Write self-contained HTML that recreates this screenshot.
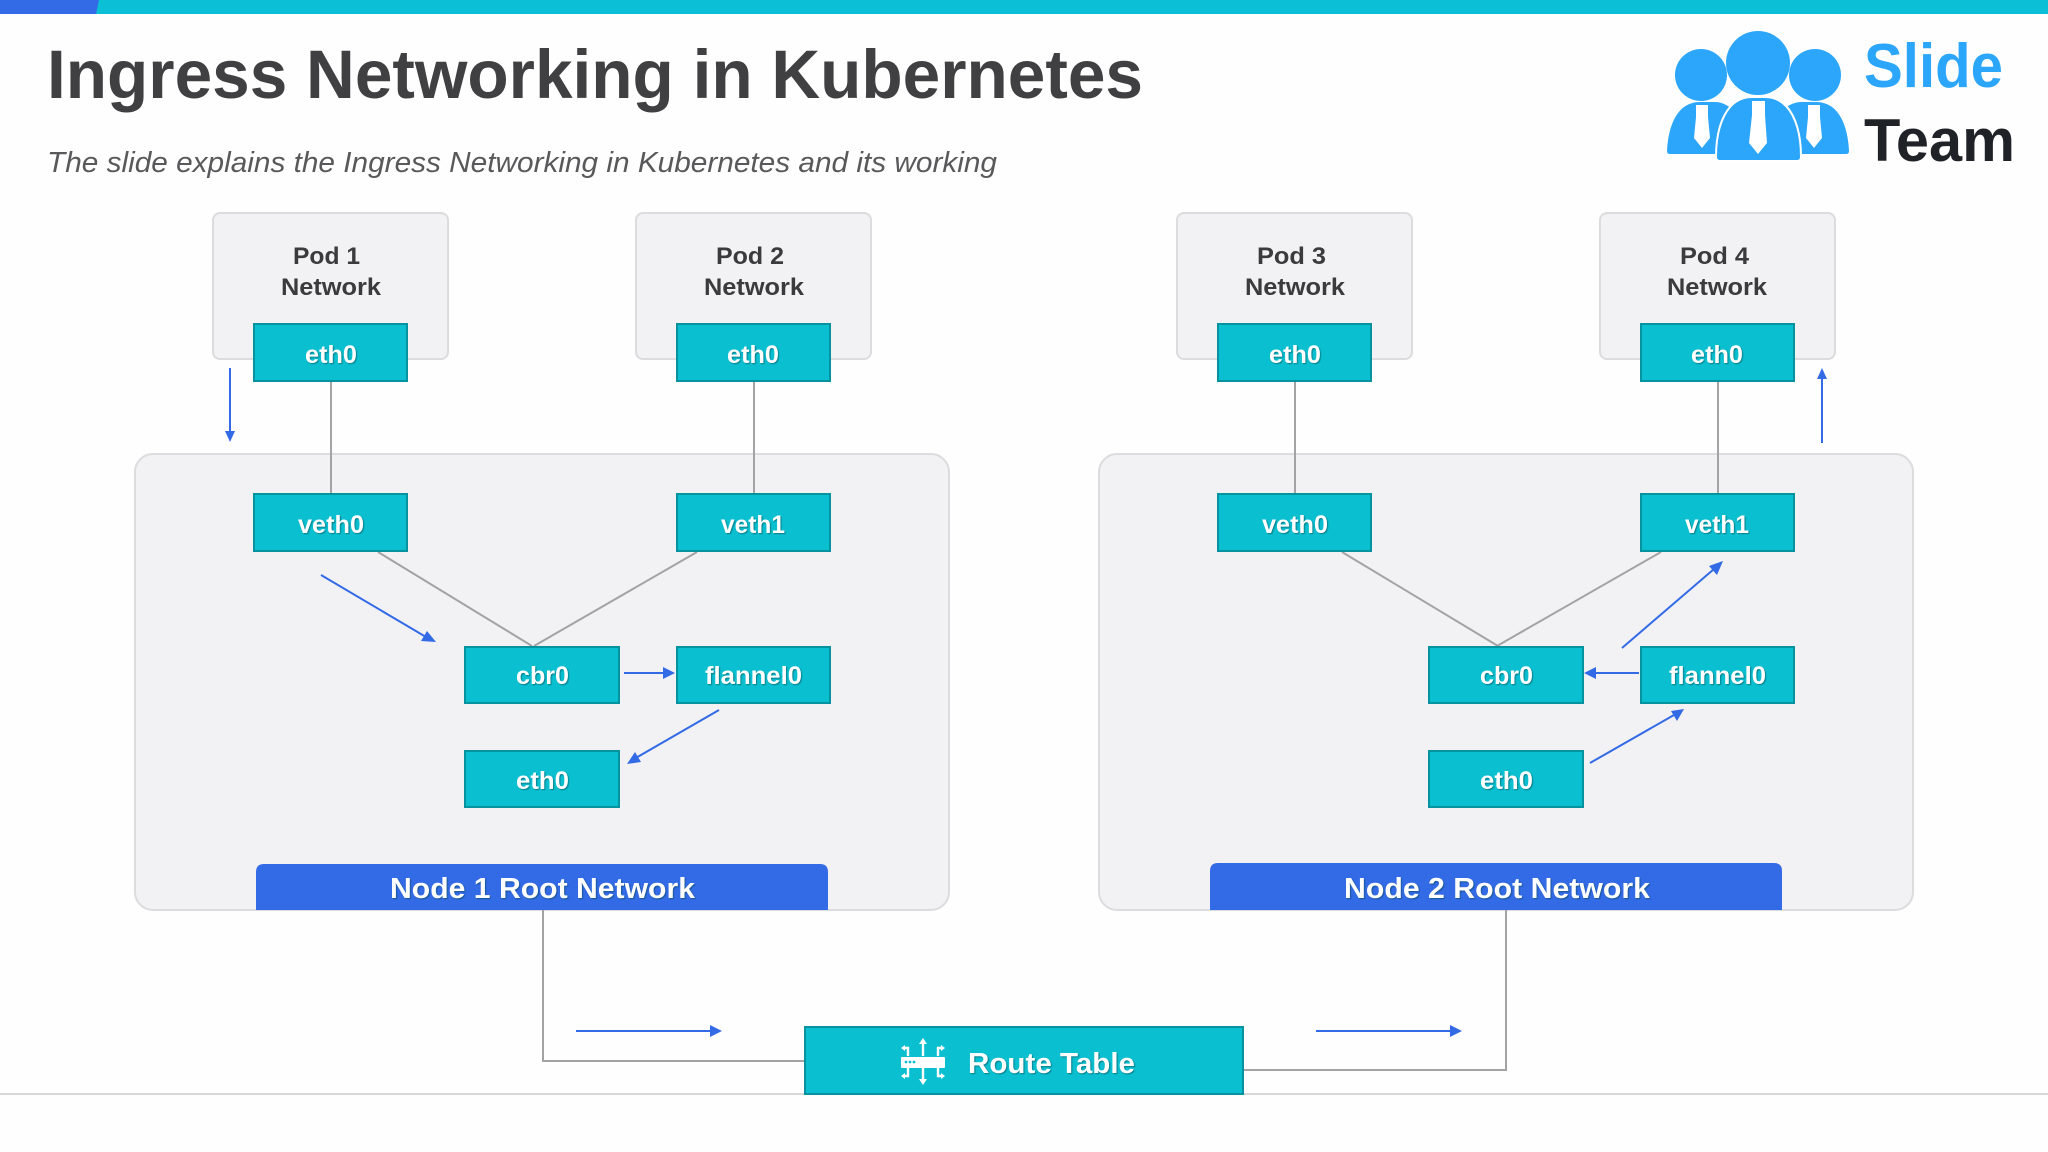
<!DOCTYPE html>
<html lang="en"><head><meta charset="utf-8"><title>Ingress Networking in Kubernetes</title>
<style>
html,body{margin:0;padding:0;background:#fefefe}
svg{display:block}
text{font-family:"Liberation Sans",sans-serif}
.t{fill:#fff;font-weight:700;font-size:25px}
.w{filter:drop-shadow(1px 1px .6px rgba(0,70,80,.55))}
.p{fill:#3b3a3c;font-weight:700;font-size:24px}
.n{fill:#fff;font-weight:700;font-size:29px}
.b{fill:#0abfcf;stroke:#07929f;stroke-width:2}
.c{fill:#f2f2f4;stroke:#dcdcde;stroke-width:2}
.g{stroke:#a3a3a5;stroke-width:2;fill:none}
.a{stroke:#336ae6;stroke-width:2;fill:none}
.h{fill:#336ae6}
</style></head><body>
<svg width="2048" height="1152" viewBox="0 0 2048 1152" xmlns="http://www.w3.org/2000/svg">
<rect width="2048" height="1152" fill="#fefefe"/>
<rect width="2048" height="14" fill="#0bbfd6"/>
<polygon points="0,0 99,0 96,14 0,14" fill="#336ae6"/>
<text x="47" y="98" font-size="69" font-weight="700" fill="#403f41" textLength="1096" lengthAdjust="spacingAndGlyphs">Ingress Networking in Kubernetes</text>
<text x="47" y="172" font-size="29" font-style="italic" fill="#59595b" textLength="950" lengthAdjust="spacingAndGlyphs">The slide explains the Ingress Networking in Kubernetes and its working</text>

<!-- logo -->
<g fill="#2ba6fb">
<circle cx="1701" cy="75" r="26"/><circle cx="1815" cy="75" r="26"/><circle cx="1758" cy="63" r="32"/>
<path d="M1667 151C1668 130 1675 102 1700 102H1715C1730 102 1750 120 1750 154H1670Q1667 154 1667 151Z"/>
<path d="M1849 151C1848 130 1841 102 1816 102H1801C1786 102 1766 120 1766 154H1846Q1849 154 1849 151Z"/>
<path d="M1716 157C1716 125 1727 97 1752 97H1765C1790 97 1801 125 1801 157Q1801 161 1797 161H1720Q1716 161 1716 157Z" stroke="#fff" stroke-width="2"/>
</g>
<g fill="#fff">
<path d="M1696 105H1708V117L1710 138L1702 148L1694 138L1696 117Z"/>
<path d="M1808 105H1820V117L1822 138L1814 148L1806 138L1808 117Z"/>
<path d="M1752 101H1765V115L1767 143L1758 154L1749 143L1752 115Z"/>
</g>
<text x="1864" y="87" font-size="62" font-weight="700" fill="#2ba6fb" textLength="139" lengthAdjust="spacingAndGlyphs">Slide</text>
<text x="1864" y="161" font-size="60" font-weight="700" fill="#1f2328" textLength="151" lengthAdjust="spacingAndGlyphs">Team</text>

<!-- containers -->
<rect class="c" x="213" y="213" width="235" height="146" rx="7"/>
<rect class="c" x="636" y="213" width="235" height="146" rx="7"/>
<rect class="c" x="1177" y="213" width="235" height="146" rx="7"/>
<rect class="c" x="1600" y="213" width="235" height="146" rx="7"/>
<rect class="c" x="135" y="454" width="814" height="456" rx="18"/>
<rect class="c" x="1099" y="454" width="814" height="456" rx="18"/>

<!-- gray connectors -->
<path class="g" d="M331 381V494M754 381V494M1295 381V494M1718 381V494"/>
<path class="g" d="M378 552L532 646M697 552L534 646M1342 552L1498 646M1661 552L1497 646"/>
<path class="g" d="M543 910V1061H804M1244 1070H1506V910"/>

<!-- pod labels -->
<g class="p">
<text x="293" y="264" textLength="67" lengthAdjust="spacingAndGlyphs">Pod 1</text>
<text x="281" y="295" textLength="100" lengthAdjust="spacingAndGlyphs">Network</text>
<text x="716" y="264" textLength="68" lengthAdjust="spacingAndGlyphs">Pod 2</text>
<text x="704" y="295" textLength="100" lengthAdjust="spacingAndGlyphs">Network</text>
<text x="1257" y="264" textLength="69" lengthAdjust="spacingAndGlyphs">Pod 3</text>
<text x="1245" y="295" textLength="100" lengthAdjust="spacingAndGlyphs">Network</text>
<text x="1680" y="264" textLength="69" lengthAdjust="spacingAndGlyphs">Pod 4</text>
<text x="1667" y="295" textLength="100" lengthAdjust="spacingAndGlyphs">Network</text>
</g>

<!-- teal boxes -->
<g>
<rect class="b" x="254" y="324" width="153" height="57"/><rect class="b" x="677" y="324" width="153" height="57"/>
<rect class="b" x="1218" y="324" width="153" height="57"/><rect class="b" x="1641" y="324" width="153" height="57"/>
<rect class="b" x="254" y="494" width="153" height="57"/><rect class="b" x="677" y="494" width="153" height="57"/>
<rect class="b" x="1218" y="494" width="153" height="57"/><rect class="b" x="1641" y="494" width="153" height="57"/>
<rect class="b" x="465" y="647" width="154" height="56"/><rect class="b" x="677" y="647" width="153" height="56"/>
<rect class="b" x="1429" y="647" width="154" height="56"/><rect class="b" x="1641" y="647" width="153" height="56"/>
<rect class="b" x="465" y="751" width="154" height="56"/><rect class="b" x="1429" y="751" width="154" height="56"/>
</g>
<g class="w">
<g class="t">
<text x="305" y="363" textLength="52" lengthAdjust="spacingAndGlyphs">eth0</text>
<text x="727" y="363" textLength="52" lengthAdjust="spacingAndGlyphs">eth0</text>
<text x="1269" y="363" textLength="52" lengthAdjust="spacingAndGlyphs">eth0</text>
<text x="1691" y="363" textLength="52" lengthAdjust="spacingAndGlyphs">eth0</text>
<text x="298" y="533" textLength="66" lengthAdjust="spacingAndGlyphs">veth0</text>
<text x="721" y="533" textLength="64" lengthAdjust="spacingAndGlyphs">veth1</text>
<text x="1262" y="533" textLength="66" lengthAdjust="spacingAndGlyphs">veth0</text>
<text x="1685" y="533" textLength="64" lengthAdjust="spacingAndGlyphs">veth1</text>
<text x="516" y="684" textLength="53" lengthAdjust="spacingAndGlyphs">cbr0</text>
<text x="705" y="684" textLength="97" lengthAdjust="spacingAndGlyphs">flannel0</text>
<text x="1480" y="684" textLength="53" lengthAdjust="spacingAndGlyphs">cbr0</text>
<text x="1669" y="684" textLength="97" lengthAdjust="spacingAndGlyphs">flannel0</text>
<text x="516" y="789" textLength="53" lengthAdjust="spacingAndGlyphs">eth0</text>
<text x="1480" y="789" textLength="53" lengthAdjust="spacingAndGlyphs">eth0</text>
</g>
</g>

<!-- node bars -->
<path class="h" d="M256 910V872Q256 864 264 864H820Q828 864 828 872V910Z"/>
<path class="h" d="M1210 910V871Q1210 863 1218 863H1774Q1782 863 1782 871V910Z"/>
<g class="w"><g class="n">
<text x="390" y="898" textLength="305" lengthAdjust="spacingAndGlyphs">Node 1 Root Network</text>
<text x="1344" y="898" textLength="306" lengthAdjust="spacingAndGlyphs">Node 2 Root Network</text>
</g></g>

<!-- bottom line and route table -->
<rect x="0" y="1093" width="2048" height="2" fill="#d8d8da"/>
<rect x="805" y="1027" width="438" height="67" fill="#0abfcf" stroke="#07929f" stroke-width="2"/>
<g fill="none" stroke="#fff" stroke-width="2.4">
<path d="M923 1040V1056M923 1068V1082"/>
<path d="M908 1056V1048H903M938 1056V1048H943M908 1068V1076H903M938 1068V1076H943"/>
</g>
<g fill="#fff">
<polygon points="923,1038 919,1044 927,1044"/><polygon points="923,1085 919,1079 927,1079"/>
<polygon points="901,1048 905,1045 905,1051"/><polygon points="945,1048 941,1045 941,1051"/>
<polygon points="901,1076 905,1073 905,1079"/><polygon points="945,1076 941,1073 941,1079"/>
<rect x="901" y="1057" width="44" height="11" rx="1"/>
</g>
<g fill="#0abfcf"><circle cx="906" cy="1062" r="1.4"/><circle cx="910" cy="1062" r="1.4"/><circle cx="914" cy="1062" r="1.4"/></g>
<g class="w"><text class="n" x="968" y="1073" textLength="167" lengthAdjust="spacingAndGlyphs">Route Table</text></g>

<!-- blue arrows -->
<g class="a">
<path d="M230 368V434"/>
<path d="M1822 443V377"/>
<path d="M321 575L426 637"/>
<path d="M624 673H666"/>
<path d="M719 710L634 759"/>
<path d="M1622 648L1714 569"/>
<path d="M1639 673H1592"/>
<path d="M1590 763L1674 715"/>
<path d="M576 1031H714"/>
<path d="M1316 1031H1454"/>
</g>
<g class="h">
<polygon points="230,442 225,431 235,431"/>
<polygon points="1822,368 1817,379 1827,379"/>
<polygon points="436,642 421,641 427,631"/>
<polygon points="675,673 663,667 663,679"/>
<polygon points="627,764 635,752 641,762"/>
<polygon points="1723,561 1717,575 1709,566"/>
<polygon points="1584,673 1596,667 1596,679"/>
<polygon points="1684,709 1677,721 1671,711"/>
<polygon points="722,1031 710,1025 710,1037"/>
<polygon points="1462,1031 1450,1025 1450,1037"/>
</g>
</svg>
</body></html>
